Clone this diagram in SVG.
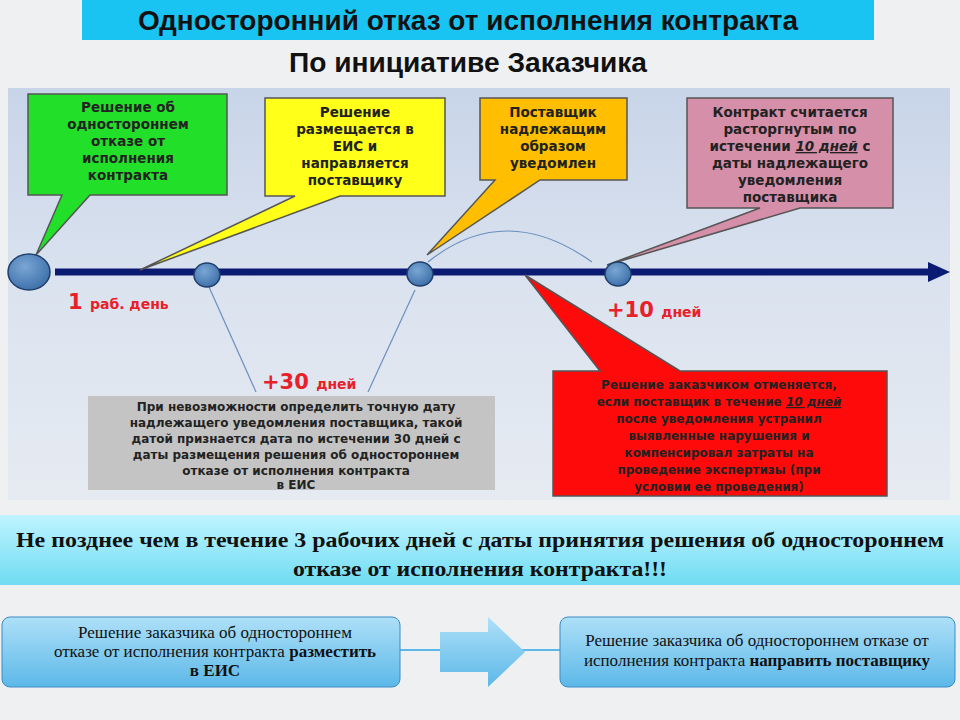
<svg xmlns="http://www.w3.org/2000/svg" width="960" height="720" viewBox="0 0 960 720">
<defs>
<linearGradient id="bg" x1="0" y1="0" x2="0" y2="1"><stop offset="0" stop-color="#c8d4e8"/><stop offset="0.5" stop-color="#dbe3ef"/><stop offset="1" stop-color="#e6ebf2"/></linearGradient>
<linearGradient id="ban" x1="0" y1="0" x2="0" y2="1"><stop offset="0" stop-color="#bff4ff"/><stop offset="1" stop-color="#6fdcf2"/></linearGradient>
<linearGradient id="bx" x1="0" y1="0" x2="0" y2="1"><stop offset="0" stop-color="#aee0f8"/><stop offset="1" stop-color="#5cb8e8"/></linearGradient>
<radialGradient id="dot" cx="0.4" cy="0.35" r="0.7"><stop offset="0" stop-color="#7aa6d4"/><stop offset="1" stop-color="#3b6ea8"/></radialGradient>
<style>
.t{font-family:"DejaVu Sans",Verdana,sans-serif;font-weight:bold;font-size:13.5px;text-anchor:middle;fill:#222}
.g{font-family:"DejaVu Sans",Verdana,sans-serif;font-weight:bold;font-size:12px;text-anchor:middle;fill:#222}
.r{font-family:"DejaVu Sans",Verdana,sans-serif;font-weight:bold;fill:#e8202a}
.s{font-family:"Liberation Serif","Times New Roman",serif;font-size:17px;text-anchor:middle;fill:#111}
.box{stroke:#555;stroke-width:1.5}
.dot{fill:url(#dot);stroke:#1f3f6a;stroke-width:1.5}
.thin{stroke:#6b8fc0;stroke-width:1.2;fill:none}
</style>
</defs>
<rect width="960" height="720" fill="#eef0f2"/>
<rect x="82" y="0" width="792" height="40" fill="#19c4f2"/>
<text x="468" y="30" text-anchor="middle" font-family="Liberation Sans,sans-serif" font-weight="bold" font-size="27" fill="#111" textLength="660" lengthAdjust="spacingAndGlyphs">Односторонний отказ от исполнения контракта</text>
<text x="468" y="72" text-anchor="middle" font-family="Liberation Sans,sans-serif" font-weight="bold" font-size="27" fill="#111" textLength="358" lengthAdjust="spacingAndGlyphs">По инициативе Заказчика</text>
<rect x="8" y="88" width="942" height="412" fill="url(#bg)"/>
<g id="connectors">
<path d="M55 272 H932" stroke="#0b1a72" stroke-width="7"/>
<polygon points="928,262 950,272 928,282" fill="#0b1a72"/>
<path d="M428 262 Q505 200 592 262" class="thin"/>
<path d="M209 287 L256 392" class="thin"/>
<path d="M415 290 L368 392" class="thin"/>
</g>
<g id="green"><path d="M28 94 H227 V195 H90 L36 255 L62 195 H28 Z" fill="#22e02a" class="box"/>
<text class="t" x="128" y="112">Решение об</text><text class="t" x="128" y="129">одностороннем</text><text class="t" x="128" y="146">отказе от</text><text class="t" x="128" y="163">исполнения</text><text class="t" x="128" y="180">контракта</text></g>
<g id="yellow"><path d="M265 98 H445 V196 H340 L140 270 L295 196 H265 Z" fill="#ffff1a" class="box"/>
<text class="t" x="355" y="117">Решение</text><text class="t" x="355" y="134">размещается в</text><text class="t" x="355" y="151">ЕИС и</text><text class="t" x="355" y="168">направляется</text><text class="t" x="355" y="185">поставщику</text></g>
<g id="orange"><path d="M480 98 H627 V180 H540 L427 255 L495 180 H480 Z" fill="#ffbf00" class="box"/>
<text class="t" x="553" y="117">Поставщик</text><text class="t" x="553" y="134">надлежащим</text><text class="t" x="553" y="151">образом</text><text class="t" x="553" y="168">уведомлен</text></g>
<g id="pink"><path d="M687 98 H893 V208 H800 L607 265 L760 208 H687 Z" fill="#d68fa8" class="box"/>
<text class="t" x="790" y="117">Контракт считается</text><text class="t" x="790" y="134">расторгнутым по</text><text class="t" x="790" y="151">истечении <tspan font-style="italic" text-decoration="underline">10 дней</tspan> с</text><text class="t" x="790" y="168">даты надлежащего</text><text class="t" x="790" y="185">уведомления</text><text class="t" x="790" y="202">поставщика</text></g>
<g id="dots">
<ellipse cx="29" cy="272" rx="21" ry="18" class="dot"/>
<ellipse cx="207" cy="275" rx="13" ry="12" class="dot"/>
<ellipse cx="420" cy="274" rx="13" ry="12" class="dot"/>
<ellipse cx="618" cy="274" rx="13" ry="12" class="dot"/>
</g>
<text class="r" x="68" y="309" font-size="21">1 <tspan font-size="14">раб. день</tspan></text>
<text class="r" x="262" y="389" font-size="21">+30 <tspan font-size="14">дней</tspan></text>
<text class="r" x="607" y="317" font-size="21">+10 <tspan font-size="14">дней</tspan></text>
<g id="gray"><rect x="88" y="396" width="407" height="94" fill="#c4c4c4"/>
<text class="g" x="296" y="411">При невозможности определить точную дату</text><text class="g" x="296" y="427">надлежащего уведомления поставщика, такой</text><text class="g" x="296" y="443">датой признается  дата по истечении 30 дней с</text><text class="g" x="296" y="459">даты размещения решения об одностороннем</text><text class="g" x="296" y="475">отказе от исполнения контракта</text><text class="g" x="296" y="489">в ЕИС</text></g>
<g id="red"><path d="M525 275 L680 371 H887 V496 H553 V371 H600 Z" fill="#ff0a0a" class="box"/>
<text class="g" x="719" y="389" fill="#6a0000">Решение заказчиком отменяется,</text><text class="g" x="719" y="406" fill="#6a0000">если поставщик в течение <tspan font-style="italic" text-decoration="underline">10 дней</tspan></text><text class="g" x="719" y="423" fill="#6a0000">после уведомления устранил</text><text class="g" x="719" y="440" fill="#6a0000">выявленные нарушения и</text><text class="g" x="719" y="457" fill="#6a0000">компенсировал затраты на</text><text class="g" x="719" y="474" fill="#6a0000">проведение экспертизы (при</text><text class="g" x="719" y="491" fill="#6a0000">условии ее проведения)</text></g>
<g id="banner"><rect x="0" y="515" width="960" height="70" fill="url(#ban)"/>
<text x="480" y="547" text-anchor="middle" font-family="Liberation Serif,serif" font-weight="bold" font-size="22" fill="#111" textLength="928" lengthAdjust="spacingAndGlyphs">Не позднее чем в течение 3 рабочих дней с даты принятия решения об одностороннем</text>
<text x="480" y="576" text-anchor="middle" font-family="Liberation Serif,serif" font-weight="bold" font-size="22" fill="#111" textLength="374" lengthAdjust="spacingAndGlyphs">отказе от исполнения контракта!!!</text></g>
<g id="connectors2"><path d="M400 650 H560" stroke="#5cb8e8" stroke-width="2"/></g>
<g id="left"><rect x="2" y="617" width="398" height="70" rx="8" fill="url(#bx)" stroke="#3a8cc4"/>
<text class="s" x="215" y="638">Решение заказчика об одностороннем</text><text class="s" x="215" y="657">отказе от исполнения контракта <tspan font-weight="bold">разместить</tspan></text><text class="s" x="215" y="676" font-weight="bold">в ЕИС</text></g>
<g id="arrow"><polygon points="440,632 488,632 488,617 525,652 488,687 488,672 440,672" fill="url(#bx)"/></g>
<g id="right"><rect x="560" y="617" width="395" height="70" rx="8" fill="url(#bx)" stroke="#3a8cc4"/>
<text class="s" x="757" y="646">Решение заказчика об одностороннем отказе от</text><text class="s" x="757" y="666">исполнения контракта <tspan font-weight="bold">направить поставщику</tspan></text></g>
</svg>
